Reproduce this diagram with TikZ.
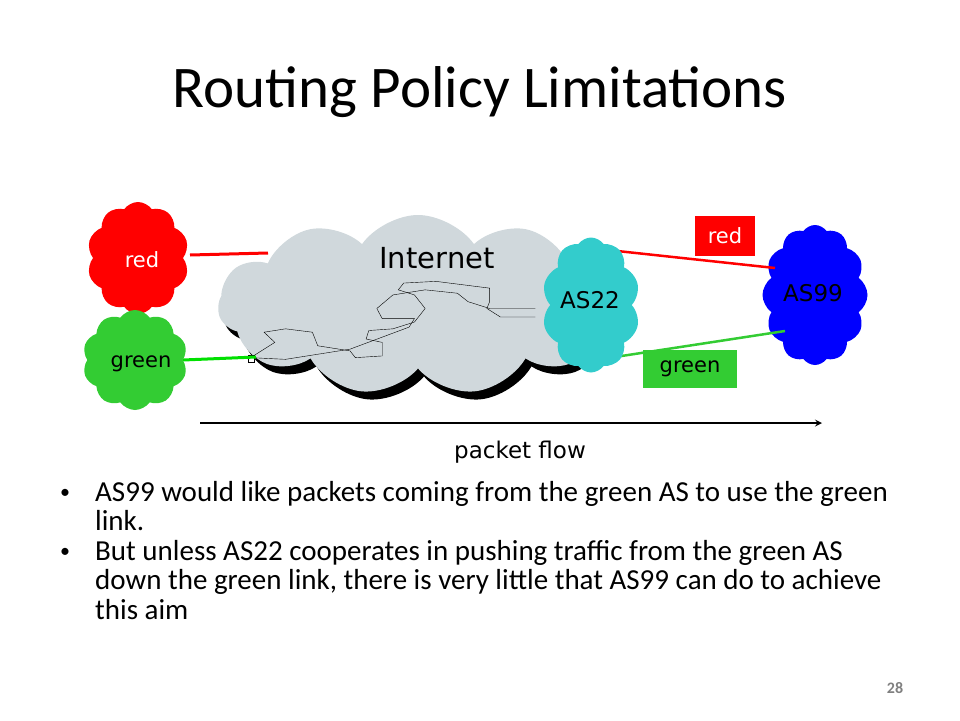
\documentclass[tikz,border=0pt]{standalone}
\usepackage{fontspec}
\setmainfont{Carlito}
\newfontfamily\djsans{DejaVu Sans}
\usetikzlibrary{shapes.symbols}
\definecolor{cgray}{HTML}{D0D8DC}
\definecolor{ccyan}{HTML}{33CCCC}
\definecolor{cgreen}{HTML}{33CC33}
\definecolor{bgreen}{HTML}{00E000}
\tikzset{
 cl/.style={cloud, cloud puffs=#1, cloud puff arc=110, aspect=1, inner sep=0pt},
 lab/.style={font=\djsans\fontsize{21}{24}\selectfont},
 bul/.style={anchor=west, font=\fontsize{29}{34}\selectfont, inner sep=0pt},
 dot/.style={anchor=west, font=\fontsize{20}{24}\selectfont, inner sep=0pt},
}
\begin{document}
\begin{tikzpicture}[x=1pt,y=-1pt]
\useasboundingbox (0,0) rectangle (960,720);
\node (title) at (480,92) {\fontsize{59}{66}\selectfont Routing Policy Limitations};
% internet cloud with shadow
\node[cl=11, fill=black, minimum width=400, minimum height=180] (shadow) at (424,313) {};
\node[cl=11, fill=cgray, minimum width=400, minimum height=180] (inet) at (418,305) {};
\node[font=\djsans\fontsize{29}{34}\selectfont] (inettxt) at (437,258) {Internet};
% wiggly path
\begin{scope}[shift={(60,200)}, xscale=0.537, yscale=0.339]
\draw[black, thin] (350,470)--(380,440)--(400,420)--(380,390)--(420,380)--(470,390)--(480,430)--(540,445)--(550,465)--(600,460)--(600,420)--(570,410)--(575,385)--(620,380)--(660,360)--(680,320)--(660,280)--(630,265)--(640,245)--(700,240)--(800,260)--(800,300)--(795,320)--(820,345)--(885,345);
\draw[black, thin] (355,465)--(420,470)--(540,440)--(650,375)--(660,350)--(600,350)--(590,320)--(620,280)--(680,265)--(740,275)--(760,300)--(800,320)--(885,320);
\draw[black, thin] (350,458) rectangle (362,478);
\end{scope}
% links
\coordinate (rl1) at (190,255); \coordinate (rl2) at (268,253);
\coordinate (gl1) at (183,360); \coordinate (gl2) at (256,357);
\draw[red, line width=3] (rl1) -- (rl2);
\draw[bgreen, line width=3] (gl1) -- (gl2);
\node[cl=10, fill=red, minimum width=102, minimum height=112] (red) at (138,258) {};
\node[cl=10, fill=cgreen, minimum width=105, minimum height=100] (green) at (135,360) {};
\node[lab, white] at (142,260) {red};
\node[lab] at (141,364) {green};
\node[cl=12, fill=blue, minimum width=105, minimum height=140] (as99) at (815,295) {};
\node[font=\djsans\fontsize{23}{28}\selectfont] at (813,293) {AS99};
\coordinate (r2) at (775,268); \coordinate (g2) at (785,331);
\coordinate (r1) at (608,250); \coordinate (g1) at (615,357);
\draw[red, line width=2.5] (r1) -- (r2);
\draw[cgreen, line width=2.5] (g1) -- (g2);
\node[cl=10, fill=ccyan, minimum width=98, minimum height=135] (as22) at (591,305) {};
\node[font=\djsans\fontsize{23}{28}\selectfont] at (590,300) {AS22};
\node[lab, fill=red, text=white, minimum width=60, minimum height=40] (redlab) at (725,236) {red};
\node[lab, fill=cgreen, minimum width=94, minimum height=38] (greenlab) at (690,369) {green};
% packet flow
\coordinate (a1) at (200,423); \coordinate (a2) at (822,423);
\draw[line width=2, -stealth] (a1) -- (a2);
\node[font=\djsans\fontsize{23}{28}\selectfont] (pf) at (520,452) {packet flow};
% bullets
\node[dot] at (60,494) {•};
\node[bul] at (95,494) {AS99 would like packets coming from the green AS to use the green};
\node[bul] at (95,521) {link.};
\node[dot] at (60,553) {•};
\node[bul] at (95,553) {But unless AS22 cooperates in pushing traffic from the green AS};
\node[bul] at (95,582) {down the green link, there is very little that AS99 can do to achieve};
\node[bul] at (95,610) {this aim};
\node[font=\bfseries\fontsize{16}{18}\selectfont, text=gray] at (895,688) {28};
\end{tikzpicture}
\end{document}
